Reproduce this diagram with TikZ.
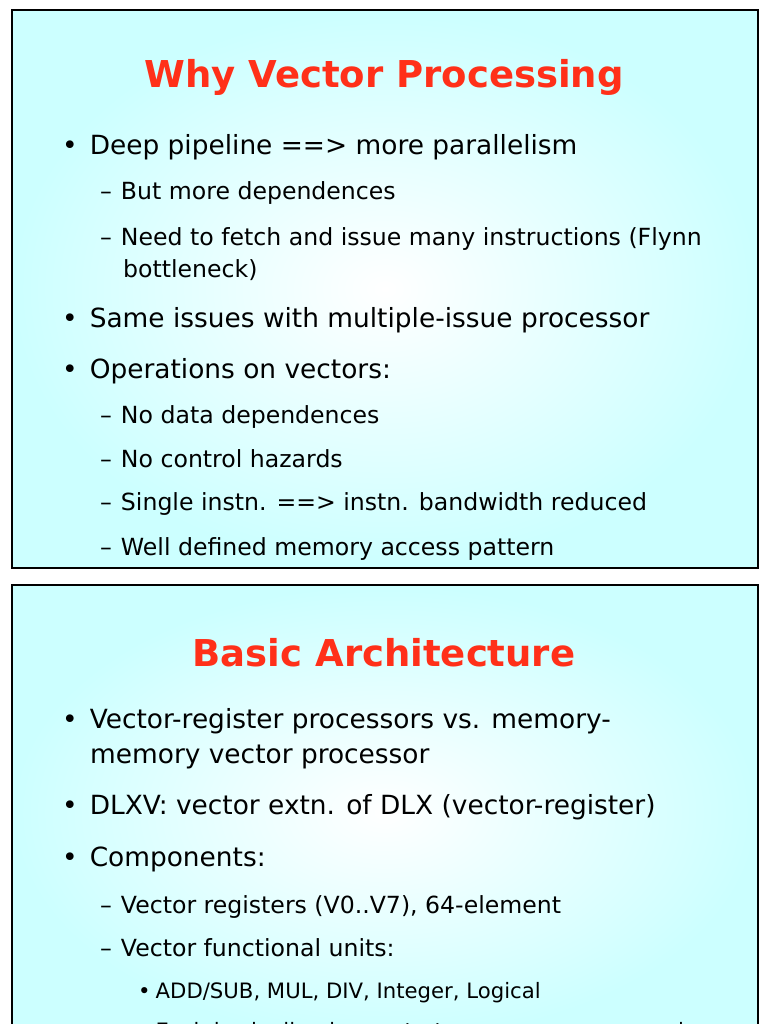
\documentclass[tikz,border=0pt]{standalone}
\usepackage{fontspec}
\setmainfont{DejaVu Sans}
\begin{document}
\begin{tikzpicture}[x=1pt,y=-1pt,
  ttl/.style={text=red!80!orange!90!white, font=\bfseries\fontsize{37}{40}\selectfont},
  lone/.style={anchor=base west, inner sep=0, font=\fontsize{26.4}{30}\selectfont},
  ltwo/.style={anchor=base west, inner sep=0, font=\fontsize{23.6}{26}\selectfont},
  lthree/.style={anchor=base west, inner sep=0, font=\fontsize{21.2}{24}\selectfont},
  slide/.style={draw=black, line width=2pt, inner color=white, outer color=cyan!20}]
\useasboundingbox (0,0) rectangle (768,1024);
\clip (0,0) rectangle (768,1024);
\fill[white] (0,0) rectangle (768,1024);
\path[slide] (12,10) rectangle (758,568);
\path[slide] (12,585) rectangle (758,1040);
\node[ttl] (t1) at (384,77) {Why Vector Processing};
\node[lone] (a1) at (62,155) {•\hspace{12pt}Deep pipeline ==> more parallelism};
\node[ltwo] (a2) at (100,200) {–\hspace{9pt}But more dependences};
\node[ltwo] (a3) at (100,245) {–\hspace{9pt}Need to fetch and issue many instructions (Flynn};
\node[ltwo] (a3b) at (123,277) {bottleneck)};
\node[lone] (a4) at (62,327) {•\hspace{12pt}Same issues with multiple-issue processor};
\node[lone] (a5) at (62,378) {•\hspace{12pt}Operations on vectors:};
\node[ltwo] (a6) at (100,423) {–\hspace{9pt}No data dependences};
\node[ltwo] (a7) at (100,467) {–\hspace{9pt}No control hazards};
\node[ltwo] (a8) at (100,510) {–\hspace{9pt}Single instn. ==> instn. bandwidth reduced};
\node[ltwo] (a9) at (100,555) {–\hspace{9pt}Well defined memory access pattern};
\node[ttl] (t2) at (384,653) {Basic Architecture};
\node[lone] (b1) at (62,728) {•\hspace{12pt}Vector-register processors vs. memory-};
\node[lone] (b1b) at (90,763) {memory vector processor};
\node[lone] (b2) at (62,814) {•\hspace{12pt}DLXV: vector extn. of DLX (vector-register)};
\node[lone] (b3) at (62,866) {•\hspace{12pt}Components:};
\node[ltwo] (b4) at (100,913) {–\hspace{9pt}Vector registers (V0..V7), 64-element};
\node[ltwo] (b5) at (100,956) {–\hspace{9pt}Vector functional units:};
\node[lthree] (b6) at (138,998) {•\hspace{5pt}ADD/SUB, MUL, DIV, Integer, Logical};
\node[lthree] (b7) at (138,1038) {•\hspace{5pt}Each is pipelined, can start a new opn. every cycle};
\end{tikzpicture}
\end{document}
